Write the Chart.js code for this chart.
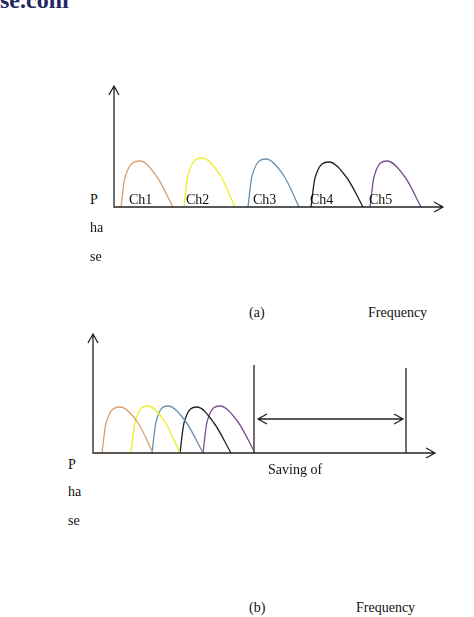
<!DOCTYPE html>
<html><head><meta charset="utf-8">
<script src="https://cdn.jsdelivr.net/npm/chart.js@4"></script>
<style>
body{margin:0;background:#fff;width:474px;height:617px;position:relative;overflow:hidden;font-family:"Liberation Serif",serif;}
.t{position:absolute;font-size:14px;color:#111;line-height:1;white-space:nowrap}
canvas{position:absolute}
#logo{position:absolute;left:0;top:-13px;font:bold 24px "Liberation Serif",serif;color:#262660}
</style></head><body>
<div id="logo">se.com</div>
<canvas id="ca" style="left:104px;top:80px;width:350px;height:137px"></canvas>
<canvas id="cb" style="left:83px;top:328px;width:360px;height:135px"></canvas>
<div class="t" style="left:90px;top:193px">P</div>
<div class="t" style="left:90px;top:221px">ha</div>
<div class="t" style="left:90px;top:250px">se</div>
<div class="t" style="left:129px;top:193px">Ch1</div>
<div class="t" style="left:186px;top:193px">Ch2</div>
<div class="t" style="left:253px;top:193px">Ch3</div>
<div class="t" style="left:310px;top:193px">Ch4</div>
<div class="t" style="left:369px;top:193px">Ch5</div>
<div class="t" style="left:249px;top:306px">(a)</div>
<div class="t" style="left:368px;top:306px">Frequency</div>
<div class="t" style="left:68px;top:458px">P</div>
<div class="t" style="left:68px;top:485px">ha</div>
<div class="t" style="left:68px;top:514px">se</div>
<div class="t" style="left:268px;top:463px">Saving of</div>
<div class="t" style="left:249px;top:601px">(b)</div>
<div class="t" style="left:356px;top:601px">Frequency</div>
<script>
const channels=["Ch1","Ch2","Ch3","Ch4","Ch5"];
const colors=["#d9a070","#eeee22","#6a8fae","#222222","#7a5090"];
// top panel (a)
const aX=[[7,11,26,43,59],[70,74,88,106,121],[134,138,152,170,185],[197,201,215,233,249],[256,260,273,291,307]];
const aY=[[0,30,46,30,0],[0,32,49,32,0],[0,31,48,31,0],[0,29,45,29,0],[0,30,46,30,0]];
// bottom panel (b)
const bX=[[9,13,27,45,60],[38,42,55,72,87],[59,63,75,93,110],[87,91,104,121,138],[110,114,127,145,162]];
const bY=[[0,30,46,30,0],[0,31,47,31,0],[0,31,47,31,0],[0,30,46,30,0],[0,31,47,31,0]];
const bBars=[[161,88],[313,85]];
const bSpan=[165,310,34];

function axesPlugin(xEnd,yTop){return{id:'ax',afterDatasetsDraw(c){
 const x=c.scales.x,y=c.scales.y,g=c.ctx;
 const x0=x.getPixelForValue(0),y0=y.getPixelForValue(0);
 const xe=x.getPixelForValue(xEnd),yt=y.getPixelForValue(yTop);
 g.save();g.strokeStyle='#222';g.lineWidth=1.3;g.beginPath();
 g.moveTo(x0,yt);g.lineTo(x0,y0);g.lineTo(xe,y0);
 g.moveTo(x0-5,yt+9);g.lineTo(x0,yt);g.lineTo(x0+5,yt+9);
 g.moveTo(xe-9,y0-5);g.lineTo(xe,y0);g.lineTo(xe-9,y0+5);
 if(c.options.span){const s=c.options.span;const ya=y.getPixelForValue(s[2]);
  const a=x.getPixelForValue(s[0]),b=x.getPixelForValue(s[1]);
  g.moveTo(a,ya);g.lineTo(b,ya);
  g.moveTo(a+9,ya-5);g.lineTo(a,ya);g.lineTo(a+9,ya+5);
  g.moveTo(b-9,ya-5);g.lineTo(b,ya);g.lineTo(b-9,ya+5);}
 g.stroke();g.restore();}}}

function make(id,X,Y,xmax,ymax,xEnd,yTop,bars,span){
 const ds=channels.map((n,i)=>({label:n,data:X[i].map((v,j)=>({x:v,y:Y[i][j]})),borderColor:colors[i],borderWidth:1.3,pointRadius:0,cubicInterpolationMode:'monotone',fill:false}));
 (bars||[]).forEach(b=>ds.push({data:[{x:b[0],y:0},{x:b[0],y:b[1]}],borderColor:'#222',borderWidth:1.3,pointRadius:0}));
 new Chart(document.getElementById(id),{type:'line',data:{datasets:ds},
  options:{responsive:false,animation:false,span:span,layout:{padding:0},
   plugins:{legend:{display:false},tooltip:{enabled:false}},
   scales:{x:{type:'linear',display:false,min:-10,max:xmax},y:{display:false,min:-10,max:ymax}}},
  plugins:[axesPlugin(xEnd,yTop)]});
}
make('ca',aX,aY,340,127,329,121,null,null);
make('cb',bX,bY,350,125,342,119,bBars,bSpan);
</script>
</body></html>
